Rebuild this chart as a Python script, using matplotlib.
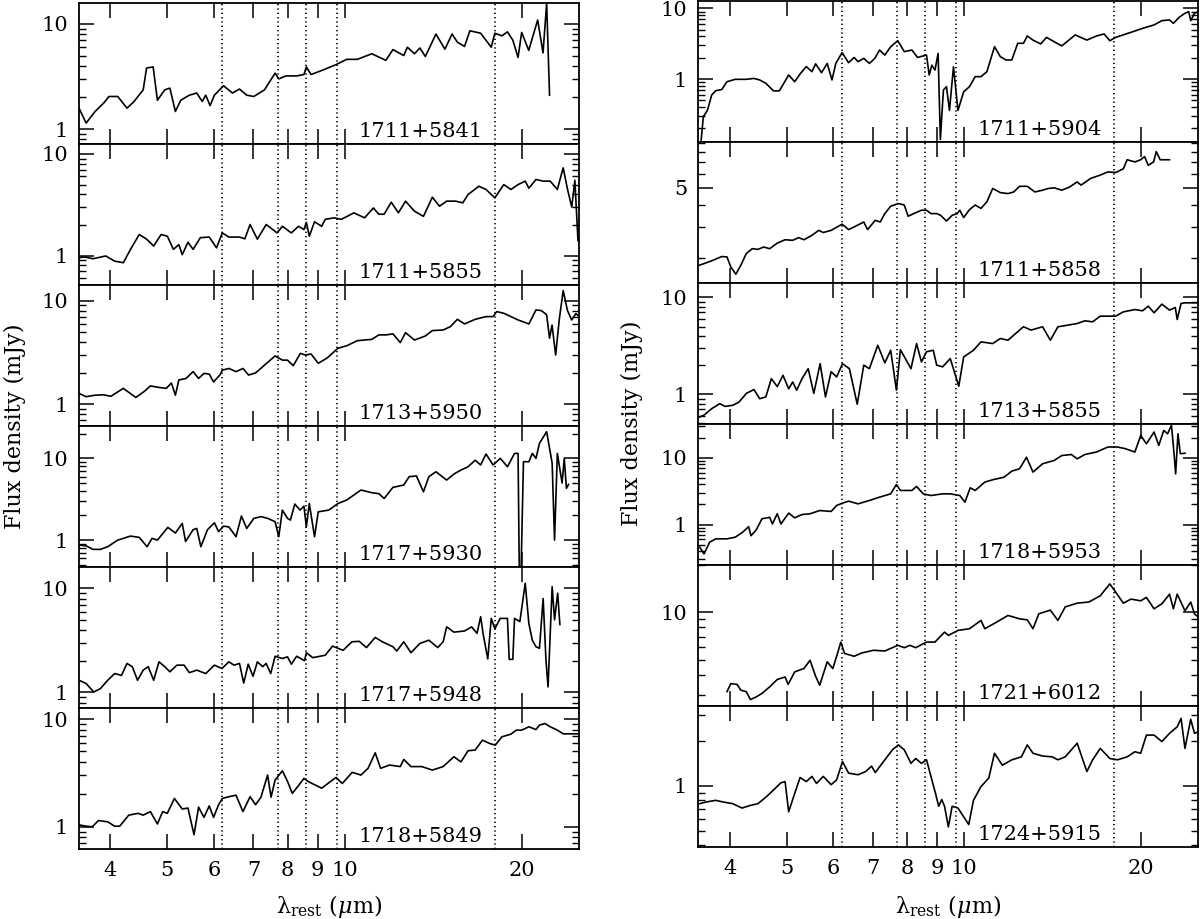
import matplotlib
matplotlib.use("Agg")
import matplotlib.pyplot as plt
from matplotlib.ticker import FixedLocator, NullLocator, NullFormatter, FixedFormatter

plt.rcParams['font.family'] = 'DejaVu Serif'
plt.rcParams['mathtext.fontset'] = 'dejavuserif'

# ---------------- data (rest wavelength in micron, flux density in mJy) ----------------
lam_1711_5841 = [3.54,3.64,3.77,3.90,3.98,4.12,4.27,4.39,4.55,4.61,4.73,4.81,4.95,5.05,5.16,5.27,5.45,5.61,5.73,5.81,5.91,6.01,6.23,6.45,6.63,6.82,7.01,7.31,7.62,7.73,7.95,8.29,8.53,8.61,8.77,9.14,9.67,10.08,10.51,11.12,11.75,12.08,12.60,12.78,13.14,13.42,13.71,14.29,14.80,15.22,15.54,15.98,16.32,17.02,17.74,17.99,18.50,18.90,19.30,19.70,19.98,20.54,21.27,21.72,22.03,22.28]
f_1711_5841 = [1.58,1.14,1.47,1.77,2.04,2.04,1.58,1.83,2.36,3.8,3.9,1.88,2.36,2.45,1.47,1.88,2.1,2.2,1.83,2.1,1.67,2.1,2.58,2.2,2.4,2.1,2.04,2.36,3.4,3.0,3.2,3.2,3.3,3.9,3.3,3.6,4.1,4.6,4.6,5.2,4.5,5.7,5.0,6.0,5.2,5.9,4.9,8.0,5.75,8.0,6.7,6.1,8.6,8.15,6.0,8.15,7.7,8.4,7.0,4.8,8.3,5.6,10.9,5.3,15.7,2.1]

lam_1711_5855 = [3.54,3.61,3.74,3.93,4.07,4.21,4.33,4.48,4.61,4.74,4.88,5.00,5.12,5.23,5.30,5.42,5.53,5.69,5.89,6.06,6.20,6.36,6.63,6.77,6.91,7.11,7.36,7.68,7.84,8.12,8.35,8.53,8.61,8.71,8.89,9.14,9.27,9.60,9.87,10.37,10.81,11.19,11.43,11.67,12.00,12.34,12.69,13.14,13.61,14.09,14.49,14.90,15.43,15.87,16.20,16.90,17.38,17.99,18.63,19.16,19.70,20.26,20.55,21.13,21.73,22.34,22.97,23.5,23.9,24.3,24.6,24.9]
f_1711_5855 = [0.95,0.97,0.93,0.99,0.88,0.85,1.15,1.61,1.45,1.24,1.61,1.55,1.15,1.28,1.02,1.35,1.15,1.5,1.52,1.19,1.67,1.52,1.52,1.46,2.02,1.45,2.02,1.67,1.94,1.67,1.94,1.80,2.12,1.55,2.15,1.94,2.27,2.35,2.27,2.63,2.35,2.94,2.55,2.55,3.35,2.63,3.43,2.73,2.43,3.75,3.06,3.43,3.43,3.3,3.98,4.81,4.47,3.7,4.99,4.47,4.99,5.4,4.6,5.6,5.4,5.4,4.47,7.3,4.5,3.0,5.5,1.4]

lam_1713_5950 = [3.54,3.64,3.77,3.90,4.01,4.21,4.42,4.58,4.68,4.84,4.98,5.08,5.16,5.23,5.38,5.53,5.65,5.77,5.89,5.99,6.14,6.20,6.36,6.54,6.72,6.87,7.06,7.31,7.62,7.84,8.00,8.18,8.41,8.58,8.77,9.02,9.34,9.74,10.08,10.51,11.12,11.43,11.75,12.08,12.43,12.69,13.14,13.71,14.09,14.70,15.12,15.54,15.98,16.66,17.38,17.87,18.12,18.63,19.16,19.70,20.55,21.13,21.58,22.03,22.28,22.50,22.82,23.14,23.5,23.9,24.3,24.7,25.0]
f_1713_5950 = [1.27,1.18,1.22,1.23,1.19,1.42,1.16,1.34,1.5,1.45,1.42,1.6,1.22,1.71,1.77,2.06,1.77,1.98,1.95,1.64,1.91,2.13,2.21,2.06,2.21,1.91,2.0,2.38,2.92,2.66,2.66,2.35,3.09,2.98,3.05,2.48,2.79,3.46,3.66,4.1,4.22,4.66,4.66,4.77,3.93,4.9,4.16,4.55,5.13,5.2,5.6,6.59,5.95,6.59,7.0,7.0,7.83,7.54,7.0,6.5,5.95,8.12,8.0,7.3,4.33,5.8,2.98,6.5,12.5,8.0,6.5,7.5,7.0]

lam_1717_5930 = [3.54,3.64,3.74,3.85,3.96,4.12,4.33,4.48,4.62,4.71,4.81,5.01,5.16,5.30,5.37,5.53,5.61,5.70,5.85,6.01,6.11,6.23,6.36,6.54,6.68,6.82,7.01,7.21,7.41,7.62,7.73,7.84,8.00,8.09,8.23,8.40,8.53,8.61,8.71,8.89,9.02,9.40,9.74,10.08,10.66,11.12,11.43,11.67,12.08,12.60,12.87,13.24,13.61,13.90,14.29,14.90,15.33,15.76,16.20,16.66,17.02,17.38,17.87,18.38,18.90,19.43,19.70,19.84,20.12,20.55,20.83,21.13,21.42,22.03,22.51,22.72,22.97,23.4,23.6,23.8,24.0]
f_1717_5930 = [0.87,0.85,0.77,0.77,0.83,1.0,1.12,1.08,0.83,1.05,1.0,1.43,1.22,1.6,0.96,1.34,1.39,0.83,1.34,1.63,1.27,1.48,1.45,1.1,1.97,1.39,1.84,1.94,1.84,1.68,1.1,2.33,1.84,1.76,2.76,2.33,2.6,1.45,2.8,1.1,2.22,2.33,2.8,3.09,4.1,3.8,3.7,3.23,4.42,4.72,5.97,6.1,3.9,5.97,6.86,5.43,6.43,7.2,7.9,9.5,8.3,11.3,8.3,10.0,7.9,11.5,11.5,0.09,9.1,9.1,11.5,10.0,15.3,21.2,8.7,1.0,11.5,5.0,10.0,4.3,4.8]

lam_1717_5948 = [3.54,3.64,3.75,3.85,3.96,4.07,4.18,4.27,4.36,4.45,4.55,4.64,4.74,4.84,4.95,5.05,5.19,5.34,5.45,5.61,5.81,6.01,6.19,6.36,6.49,6.63,6.74,6.86,6.99,7.11,7.26,7.36,7.49,7.62,7.84,8.00,8.12,8.29,8.55,8.61,8.83,9.27,9.54,9.94,10.29,10.59,10.89,11.27,11.59,12.08,12.26,12.60,12.96,13.42,13.90,14.39,14.70,14.90,15.33,15.98,16.43,16.78,17.02,17.18,17.50,17.74,17.99,18.37,18.90,19.03,19.30,19.43,19.84,20.26,20.55,20.83,21.13,21.42,21.73,21.97,22.15,22.51,22.72,23.0,23.2]
f_1717_5948 = [1.31,1.22,1.01,1.09,1.31,1.52,1.46,1.90,1.77,1.31,1.64,1.77,1.31,1.97,1.77,1.58,1.83,1.83,1.55,1.64,1.52,1.83,1.70,1.97,1.83,1.90,1.23,1.87,1.43,1.97,1.77,1.90,1.52,2.23,2.12,2.2,1.87,2.23,2.02,2.41,2.16,2.28,2.79,2.54,3.07,3.1,2.7,3.38,3.07,2.75,2.5,3.07,2.41,2.96,3.18,2.7,3.07,4.27,3.8,3.9,4.27,3.7,5.35,3.7,2.1,5.15,4.1,5.15,5.15,2.08,2.08,5.15,4.8,11.2,4.6,3.18,2.75,2.66,8.0,2.05,1.13,10.4,5.0,9.0,4.5]

lam_1718_5849 = [3.54,3.64,3.73,3.82,3.96,4.07,4.15,4.30,4.46,4.55,4.68,4.81,4.91,5.00,5.14,5.30,5.42,5.55,5.65,5.77,5.89,5.99,6.11,6.20,6.36,6.54,6.72,6.91,7.06,7.21,7.40,7.50,7.62,7.84,8.00,8.15,8.35,8.53,8.67,9.14,9.67,9.91,10.30,10.66,10.96,11.27,11.51,11.92,12.43,12.60,12.96,13.52,14.09,14.70,15.33,15.76,16.20,16.66,17.14,17.62,18.02,18.50,19.16,19.57,19.98,20.55,21.13,21.42,21.88,22.34,22.97,23.5,25.0]
f_1718_5849 = [1.04,1.01,1.0,1.14,1.11,1.01,1.01,1.28,1.33,1.28,1.38,1.06,1.38,1.33,1.83,1.46,1.49,0.84,1.52,1.22,1.56,1.22,1.6,1.83,1.9,1.96,1.38,1.9,1.6,1.88,3.02,1.88,2.71,3.31,2.63,2.04,2.41,2.81,2.63,2.28,2.87,2.52,3.2,3.02,3.49,4.86,3.49,3.74,3.62,4.22,3.62,3.62,3.36,3.62,4.47,4.0,5.08,5.16,6.38,5.94,5.73,6.85,7.25,7.9,7.9,8.49,8.0,8.8,9.1,8.49,7.9,7.3,7.3]

lam_1711_5904 = [3.58,3.61,3.67,3.73,3.79,3.88,3.96,4.09,4.27,4.40,4.50,4.61,4.75,4.86,5.04,5.16,5.27,5.40,5.52,5.60,5.73,5.86,5.97,6.06,6.21,6.37,6.51,6.61,6.76,6.91,7.06,7.19,7.34,7.51,7.72,7.92,8.16,8.34,8.53,8.64,8.73,8.82,8.93,9.04,9.12,9.23,9.34,9.45,9.60,9.77,9.99,10.22,10.45,10.69,10.94,11.27,11.53,11.79,12.06,12.34,12.62,12.81,13.10,13.50,13.81,14.23,14.66,15.45,16.17,16.79,17.30,17.69,18.10,18.79,19.36,20.10,21.03,21.68,22.34,22.68,23.20,23.73,24.08,24.27,24.63,25.0]
f_1711_5904 = [0.137,0.293,0.364,0.594,0.684,0.71,0.916,0.99,0.99,1.02,0.97,0.87,0.68,0.68,1.14,0.916,1.18,1.5,1.27,1.64,1.23,1.66,0.97,1.66,2.36,1.7,2.02,1.76,1.96,1.66,1.96,2.57,2.18,2.86,3.48,2.44,2.57,2.02,2.12,2.18,1.14,1.57,1.34,2.3,0.14,0.70,0.78,0.36,1.49,0.36,0.66,0.78,1.08,1.08,1.27,2.87,2.07,1.86,1.86,3.2,3.2,4.06,3.55,3.13,3.88,3.37,2.94,4.2,3.55,4.06,4.34,3.48,3.88,4.3,4.67,5.2,5.82,6.69,6.84,6.13,7.46,8.5,8.97,6.69,8.5,9.0]

lam_1711_5858 = [3.55,3.62,3.73,3.88,3.96,4.02,4.10,4.18,4.27,4.37,4.47,4.57,4.68,4.82,4.97,5.12,5.24,5.35,5.52,5.67,5.77,5.95,6.21,6.37,6.51,6.76,6.86,7.07,7.21,7.34,7.51,7.74,7.92,8.04,8.22,8.47,8.64,8.79,8.99,9.13,9.34,9.55,9.74,9.84,9.99,10.22,10.45,10.69,10.94,11.19,11.53,11.88,12.15,12.43,12.81,13.20,13.60,13.91,14.23,14.66,15.11,15.57,15.81,16.41,17.04,17.56,18.10,18.65,18.93,19.51,19.96,20.26,20.56,20.99,21.21,21.54,22.34]
f_1711_5858 = [1.83,1.87,1.94,2.05,2.04,1.79,1.63,1.83,2.13,2.27,2.25,2.32,2.27,2.44,2.55,2.53,2.62,2.55,2.70,2.88,2.80,2.88,3.12,2.91,3.01,3.21,2.91,3.28,3.21,3.58,3.94,4.08,4.0,3.46,3.58,3.74,3.74,3.58,3.58,3.50,3.25,3.50,3.58,3.74,3.40,3.77,4.0,3.83,4.17,4.96,4.7,4.64,4.74,5.1,5.1,4.74,4.85,4.96,5.0,4.85,5.05,5.4,5.18,5.65,5.9,6.15,6.1,6.4,7.2,7.0,7.2,7.5,6.7,7.0,8.0,7.2,7.2]

lam_1713_5855 = [3.55,3.62,3.73,3.85,3.93,4.05,4.15,4.27,4.40,4.50,4.61,4.71,4.82,4.93,5.04,5.12,5.20,5.31,5.44,5.56,5.70,5.82,5.95,6.08,6.22,6.39,6.59,6.76,6.91,7.14,7.34,7.51,7.68,7.80,8.13,8.31,8.47,8.64,8.87,8.99,9.20,9.48,9.80,9.99,10.38,10.69,11.19,11.53,11.88,12.24,12.62,13.00,13.60,14.02,14.44,15.00,15.57,16.05,16.54,17.04,18.10,18.65,19.51,20.10,20.56,21.03,21.68,22.34,22.85,23.02,23.37,23.73,25.0]
f_1713_5855 = [0.58,0.61,0.71,0.80,0.75,0.77,0.83,1.02,1.12,0.90,0.94,1.45,1.2,1.57,1.14,1.34,1.1,1.45,1.84,1.02,2.07,0.94,1.71,1.51,2.07,1.84,0.79,2.0,1.84,3.21,2.11,2.85,1.1,2.89,1.84,3.34,2.16,2.75,2.85,2.0,1.92,2.34,1.21,2.43,2.85,3.48,3.34,3.77,3.62,4.24,4.98,4.6,4.98,3.62,4.98,5.17,5.38,5.74,5.6,6.41,6.41,7.1,7.5,7.28,8.13,6.94,8.53,7.4,7.88,5.92,8.66,8.8,8.8]

lam_1718_5953 = [3.56,3.62,3.70,3.79,3.96,4.09,4.21,4.31,4.35,4.44,4.54,4.68,4.73,4.82,4.89,5.04,5.16,5.31,5.48,5.69,5.95,6.08,6.22,6.37,6.61,6.91,7.19,7.51,7.68,7.80,8.16,8.31,8.53,8.79,9.20,9.48,9.84,10.04,10.25,10.45,10.85,11.19,11.70,12.06,12.43,12.77,13.10,13.60,14.23,14.66,15.22,15.57,16.05,16.79,17.56,18.23,18.79,19.51,19.96,20.41,21.03,21.42,21.84,22.17,22.51,22.74,22.88,23.09,23.30,23.73]
f_1718_5953 = [0.457,0.363,0.543,0.61,0.61,0.646,0.767,0.93,0.68,0.83,1.22,1.28,1.02,1.45,1.02,1.48,1.26,1.41,1.45,1.62,1.57,1.93,2.09,2.24,2.04,2.29,2.57,2.88,3.98,3.24,3.24,3.72,2.88,2.72,2.88,2.88,2.72,2.16,3.55,3.24,4.32,4.68,5.12,6.31,6.84,10.2,6.1,8.13,9.12,10.8,11.2,9.66,11.2,12.2,14.5,14.5,13.7,12.2,21.6,16.2,24.3,15.3,25.7,22.9,30.6,11.5,5.75,22.9,11.5,11.7]

lam_1721_6012 = [3.96,4.02,4.12,4.18,4.27,4.34,4.44,4.54,4.68,4.82,4.97,5.03,5.16,5.35,5.48,5.60,5.69,5.86,5.99,6.11,6.18,6.27,6.51,6.71,7.02,7.34,7.72,7.92,8.10,8.28,8.64,8.93,9.27,9.41,9.77,10.22,10.69,10.85,11.36,11.88,12.43,12.81,13.10,13.40,14.02,14.44,14.86,15.57,16.30,17.04,17.69,18.10,18.65,19.22,19.96,20.41,21.03,21.68,22.34,22.68,23.02,23.73,24.27,24.63,25.0]
f_1721_6012 = [3.13,3.52,3.48,3.2,3.13,2.79,2.9,3.05,3.36,3.74,3.88,3.48,4.18,4.39,4.95,3.92,3.44,4.84,4.39,5.59,6.46,5.47,5.25,5.51,5.73,5.67,6.16,5.95,6.16,5.95,6.46,6.46,7.47,7.12,7.66,7.85,8.86,7.85,8.64,9.53,9.07,8.94,7.85,9.76,10.3,8.86,10.8,11.4,11.6,12.7,15.1,13.4,11.4,12.1,11.8,12.4,10.5,11.3,13.0,10.5,13.0,10.2,11.6,9.76,9.3]

lam_1724_5915 = [3.56,3.65,3.79,3.90,4.05,4.20,4.34,4.47,4.61,4.75,4.89,4.97,5.04,5.16,5.27,5.40,5.52,5.62,5.77,5.95,6.08,6.22,6.37,6.61,6.81,6.97,7.07,7.34,7.57,7.74,7.92,8.13,8.28,8.47,8.64,8.79,8.95,9.06,9.17,9.27,9.41,9.55,9.77,9.99,10.19,10.38,10.69,11.02,11.27,11.62,12.06,12.52,12.81,13.10,13.60,14.12,14.44,14.86,15.57,16.17,16.54,17.04,17.69,18.23,18.93,19.51,19.96,20.41,21.03,21.68,22.34,23.02,23.37,23.73,24.27,24.63,25.0]
f_1724_5915 = [0.76,0.78,0.80,0.78,0.76,0.71,0.74,0.76,0.84,0.94,1.05,1.07,0.67,0.89,1.14,1.07,1.16,1.04,1.16,1.02,1.1,1.46,1.22,1.19,1.25,1.36,1.23,1.5,1.76,1.89,1.75,1.42,1.53,1.42,1.5,1.16,0.89,0.73,0.81,0.73,0.53,0.73,0.71,0.62,0.55,0.8,0.99,1.13,1.66,1.38,1.5,1.57,1.89,1.66,1.59,1.57,1.5,1.57,1.94,1.25,1.5,1.79,1.53,1.5,1.57,1.7,1.66,2.2,2.2,1.99,2.26,2.5,2.85,1.79,2.81,2.26,2.32]

left_names = ['1711+5841', '1711+5855', '1713+5950', '1717+5930', '1717+5948', '1718+5849']
right_names = ['1711+5904', '1711+5858', '1713+5855', '1718+5953', '1721+6012', '1724+5915']

x_ticks = [4, 5, 6, 7, 8, 9, 10, 20]
x_tick_labels = ['4', '5', '6', '7', '8', '9', '10', '20']
feature_lines = [6.2, 7.7, 8.6, 9.7, 18.0]

# ---------------- layout ----------------
W, H = 1202, 919
fig = plt.figure(figsize=(W / 100, H / 100), dpi=100)

XLIM = (3.54, 25.0)
COL_W = 500.0

left_panels = [
    (lam_1711_5841, f_1711_5841, (0.725, 15.9), [1, 10]),
    (lam_1711_5855, f_1711_5855, (0.515, 12.6), [1, 10]),
    (lam_1713_5950, f_1713_5950, (0.617, 14.2), [1, 10]),
    (lam_1717_5930, f_1717_5930, (0.47, 25.0), [1, 10]),
    (lam_1717_5948, f_1717_5948, (0.71, 16.1), [1, 10]),
    (lam_1718_5849, f_1718_5849, (0.62, 12.7), [1, 10]),
]
right_panels = [
    (lam_1711_5904, f_1711_5904, (0.13, 12.8), [1, 10]),
    (lam_1711_5858, f_1711_5858, (1.46, 9.1), [5]),
    (lam_1713_5855, f_1713_5855, (0.497, 14.2), [1, 10]),
    (lam_1718_5953, f_1718_5953, (0.25, 32.4), [1, 10]),
    (lam_1721_6012, f_1721_6012, (2.55, 20.0), [10]),
    (lam_1724_5915, f_1724_5915, (0.39, 3.47), [1]),
]

columns = [
    dict(left=79.0, top=2.7, bottom=849.0, panels=left_panels, names=left_names, ylab_x=15.0),
    dict(left=698.3, top=0.7, bottom=846.7, panels=right_panels, names=right_names, ylab_x=632.0),
]


def minor_positions(lo, hi, majors):
    out = []
    for e in range(-2, 3):
        for k in range(1, 10):
            v = k * 10.0 ** e
            if lo <= v <= hi and not any(abs(v - m) < 1e-9 for m in majors):
                out.append(v)
    return out


for col in columns:
    n = len(col['panels'])
    ph = (col['bottom'] - col['top']) / n
    for i, ((lam, flux, ylim, majors), name) in enumerate(zip(col['panels'], col['names'])):
        top_px = col['top'] + i * ph
        bot_px = top_px + ph
        ax = fig.add_axes([col['left'] / W, 1 - bot_px / H, COL_W / W, ph / H])
        ax.set_xscale('log')
        ax.set_yscale('log')
        ax.plot(lam, flux, color='black', lw=1.2, solid_joinstyle='round')
        for v in feature_lines:
            ax.axvline(v, color='black', lw=1.2, ls=(0, (0.8, 1.8)))
        ax.set_xlim(*XLIM)
        ax.set_ylim(*ylim)

        ax.xaxis.set_major_locator(FixedLocator(x_ticks))
        ax.xaxis.set_minor_locator(NullLocator())
        if i == n - 1:
            ax.xaxis.set_major_formatter(FixedFormatter(x_tick_labels))
        else:
            ax.xaxis.set_major_formatter(NullFormatter())
        ax.tick_params(axis='x', which='major', direction='in', top=True, bottom=True,
                       length=11, width=1.1, labelsize=15, pad=9)

        ax.yaxis.set_major_locator(FixedLocator(majors))
        ax.yaxis.set_major_formatter(FixedFormatter([('%g' % m) for m in majors]))
        ax.yaxis.set_minor_locator(FixedLocator(minor_positions(ylim[0], ylim[1], majors)))
        ax.yaxis.set_minor_formatter(NullFormatter())
        ax.tick_params(axis='y', which='major', direction='in', left=True, right=True,
                       length=11, width=1.1, labelsize=15, pad=8)
        ax.tick_params(axis='y', which='minor', direction='in', left=True, right=True,
                       length=5, width=1.0)
        for sp in ax.spines.values():
            sp.set_linewidth(1.3)

        ax.text(0.807, 0.05, name, transform=ax.transAxes, ha='right', va='baseline',
                fontsize=15)

    # axis labels
    fig.text(col['ylab_x'] / W, 1 - ((col['top'] + col['bottom']) / 2) / H,
             'Flux density (mJy)', rotation=90, ha='center', va='center', fontsize=16)
    fig.text((col['left'] + COL_W / 2) / W, 1 - 906 / H,
             r'λ$_{\rm rest}$ ($\mu$m)', ha='center', va='center', fontsize=16)

fig.savefig('out.png', dpi=100)
